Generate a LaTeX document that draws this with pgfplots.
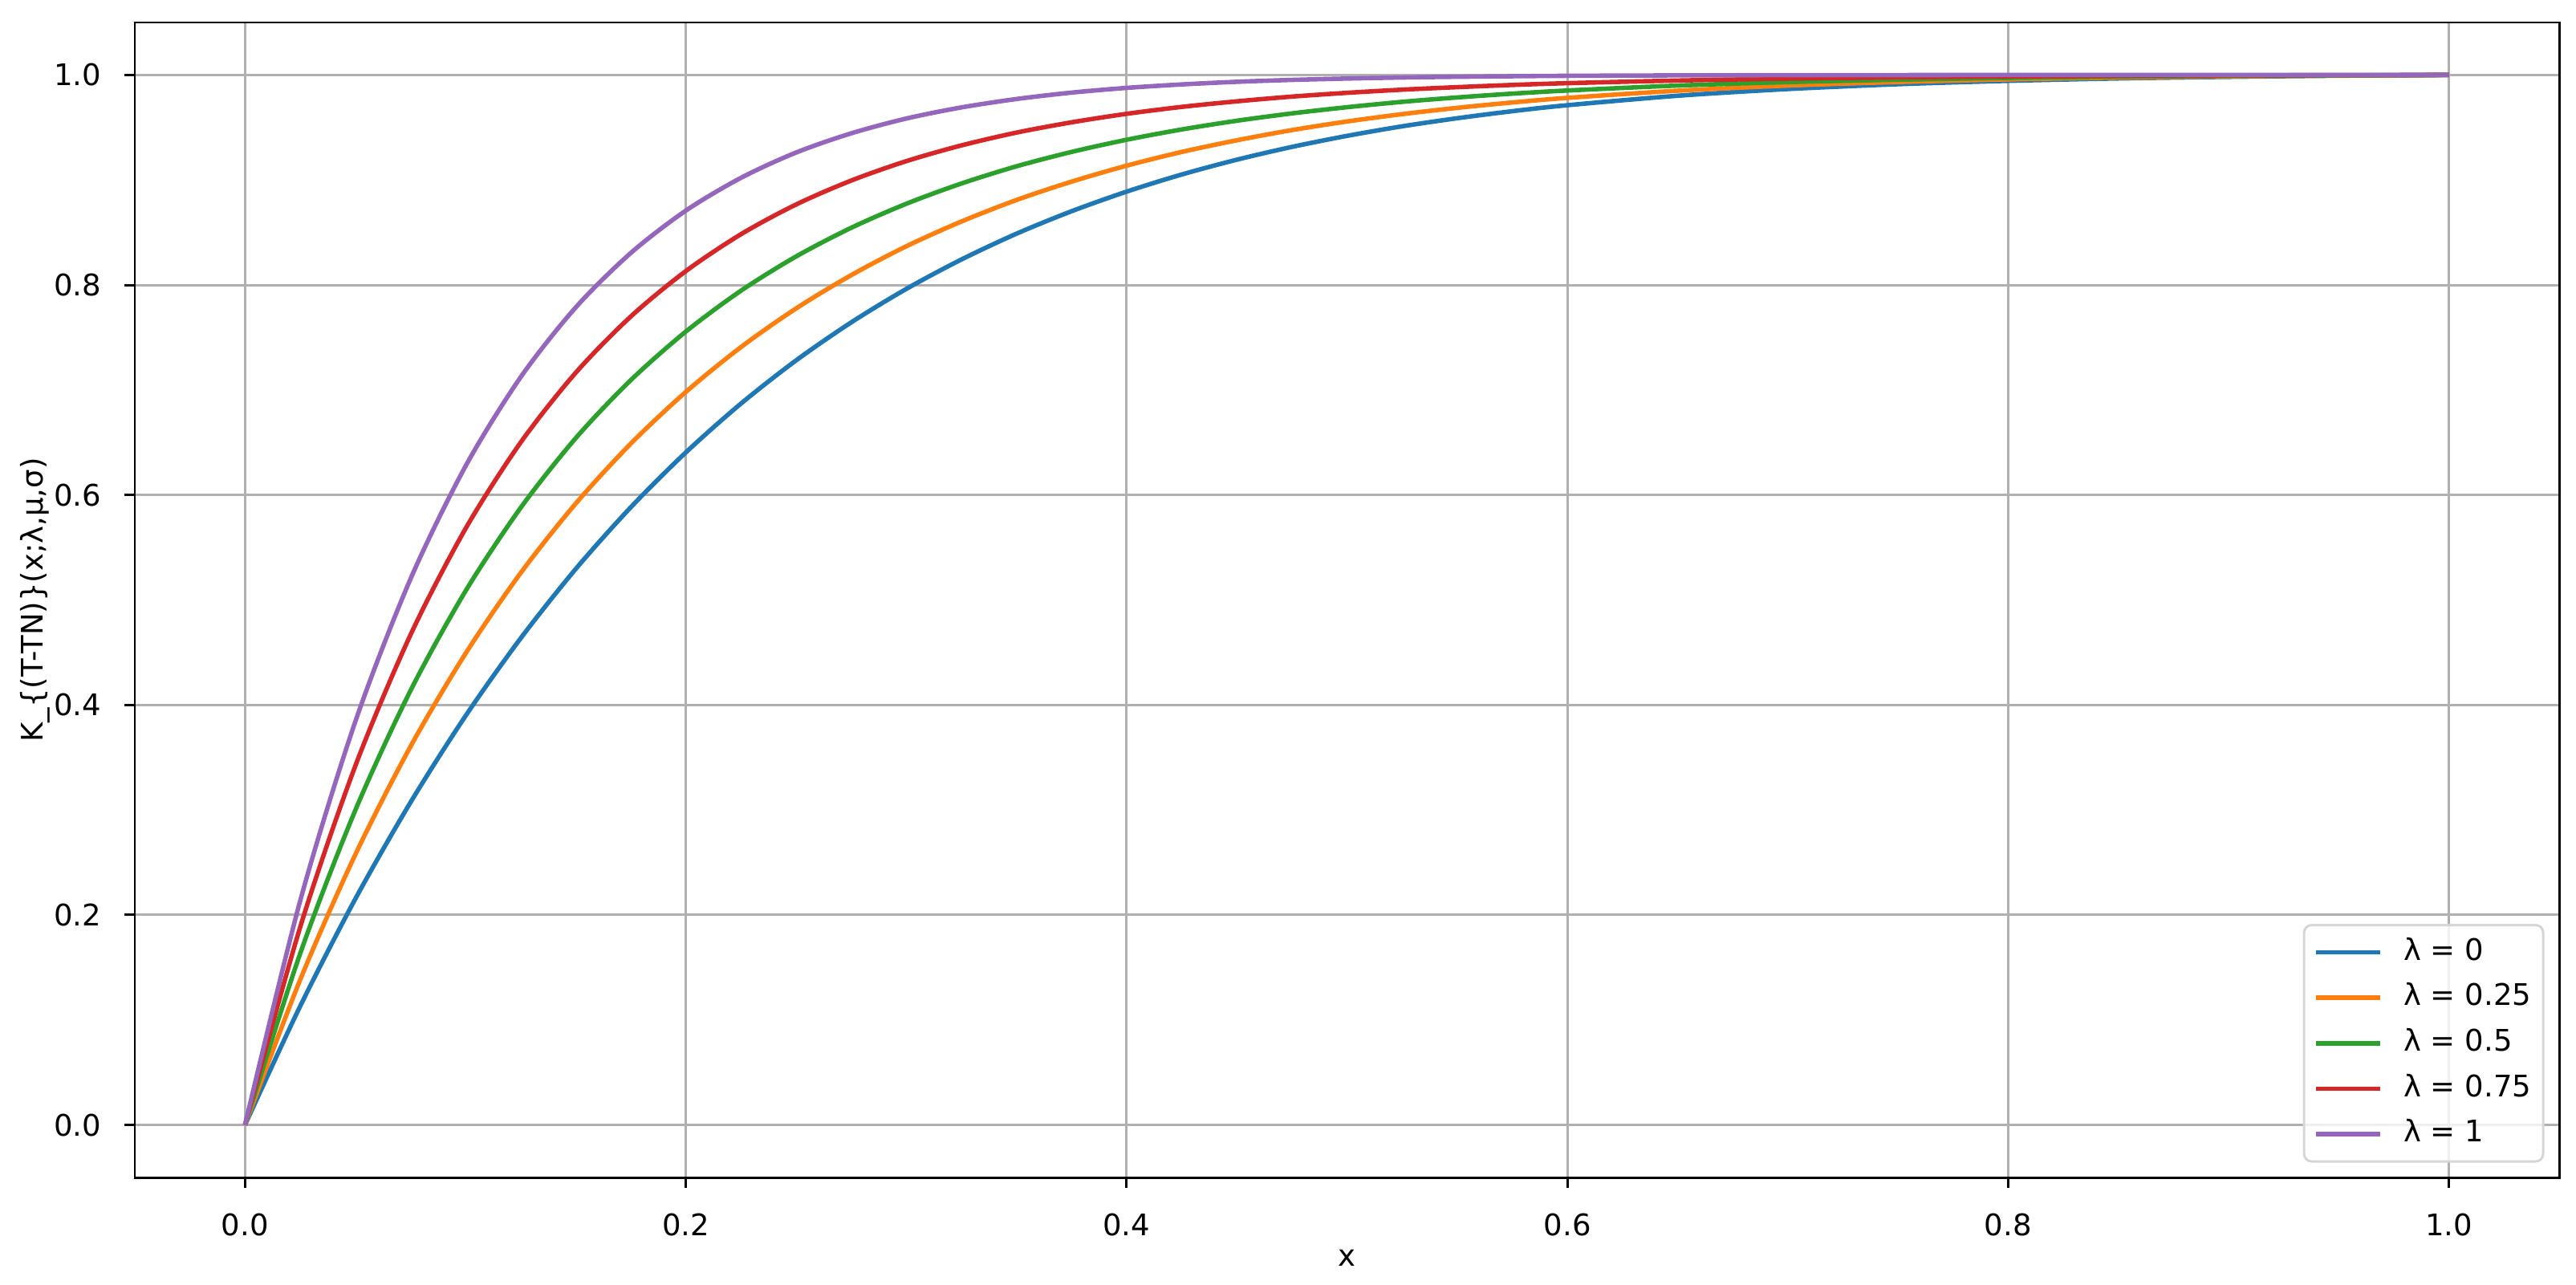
\documentclass[border=0pt]{standalone}
\usepackage{fontspec}
\setmainfont{DejaVu Sans}
\usepackage{pgfplots}
\usepackage{pgfplotstable}
\pgfplotsset{compat=1.18}
\definecolor{c0}{HTML}{1F77B4}
\definecolor{c1}{HTML}{FF7F0E}
\definecolor{c2}{HTML}{2CA02C}
\definecolor{c3}{HTML}{D62728}
\definecolor{c4}{HTML}{9467BD}
\definecolor{gridgray}{HTML}{B0B0B0}
\definecolor{legedge}{HTML}{D6D6D6}
\pgfplotstableread{
x      a      b      c      d      e
0      0      0      0      0      0
0.025  0.1130 0.1381 0.1631 0.1882 0.2132
0.05   0.2151 0.2573 0.2995 0.3417 0.3839
0.075  0.3069 0.3601 0.4133 0.4664 0.5196
0.1    0.3894 0.4488 0.5083 0.5677 0.6272
0.125  0.4633 0.5255 0.5876 0.6498 0.7120
0.15   0.5294 0.5917 0.6540 0.7163 0.7785
0.175  0.5882 0.6488 0.7093 0.7699 0.8304
0.2    0.6405 0.6981 0.7556 0.8132 0.8708
0.225  0.6870 0.7408 0.7945 0.8483 0.9020
0.25   0.7281 0.7776 0.8271 0.8766 0.9261
0.275  0.7643 0.8093 0.8544 0.8994 0.9444
0.3    0.7962 0.8368 0.8773 0.9179 0.9585
0.325  0.8242 0.8604 0.8966 0.9329 0.9691
0.35   0.8488 0.8809 0.9130 0.9451 0.9771
0.375  0.8702 0.8984 0.9267 0.9549 0.9832
0.4    0.8889 0.9136 0.9383 0.9630 0.9877
0.425  0.9052 0.9267 0.9481 0.9696 0.9910
0.45   0.9193 0.9378 0.9564 0.9749 0.9935
0.475  0.9315 0.9475 0.9634 0.9794 0.9953
0.5    0.9420 0.9557 0.9693 0.9830 0.9966
0.525  0.9511 0.9627 0.9744 0.9860 0.9976
0.55   0.9588 0.9687 0.9786 0.9884 0.9983
0.575  0.9655 0.9738 0.9822 0.9905 0.9988
0.6    0.9712 0.9782 0.9852 0.9922 0.9992
0.65   0.9802 0.9850 0.9899 0.9947 0.9996
0.7    0.9866 0.9899 0.9932 0.9965 0.9998
0.75   0.9912 0.9933 0.9955 0.9977 0.9999
0.8    0.9944 0.9958 0.9972 0.9986 1.0000
0.85   0.9967 0.9975 0.9983 0.9992 1.0000
0.9    0.9982 0.9987 0.9991 0.9996 1.0000
0.95   0.9993 0.9995 0.9996 0.9998 1.0000
1.0    1      1      1      1      1
}\data
\begin{document}
\begin{tikzpicture}
\begin{axis}[
  name=ax,
  scale only axis,
  width=815.67pt, height=388.53pt,
  xmin=-0.05, xmax=1.05, ymin=-0.05, ymax=1.05,
  xtick={0,0.2,0.4,0.6,0.8,1},
  xticklabels={0.0,0.2,0.4,0.6,0.8,1.0},
  ytick={0,0.2,0.4,0.6,0.8,1},
  yticklabels={0.0,0.2,0.4,0.6,0.8,1.0},
  xtick pos=bottom, ytick pos=left,
  tick align=outside,
  major tick length=3.5pt,
  major tick style={black, line width=0.8pt},
  axis line style={black, line width=0.8pt},
  grid=major,
  major grid style={gridgray, line width=0.8pt},
  xticklabel style={inner sep=0pt, anchor=north},
  yticklabel style={inner sep=0pt, anchor=east},
  xticklabel shift=8.4pt,
  yticklabel shift=7.6pt,
  xlabel={x},
  ylabel={K\_\{(T-TN)\}(x;λ,μ,σ)},
  xlabel style={at={(axis description cs:0.5,-0.0767)}, anchor=base, inner sep=0pt},
  ylabel style={at={(axis description cs:-0.0380,0.5)}, anchor=base, inner sep=0pt},
  legend cell align=left,
  legend image code/.code={\draw[#1, line cap=rect] (0pt,0pt) -- (20pt,0pt);},
  legend style={at={(1,0)}, anchor=south east, xshift=-5pt, yshift=5pt,
    draw=legedge, line width=0.8pt, rounded corners=2.5pt,
    fill=white, fill opacity=0.8, text opacity=1,
    inner xsep=4pt, inner ysep=4pt, row sep=5pt, column sep=8pt,
    nodes={inner sep=0pt, text height=7.8pt, text depth=2.5pt, anchor=west}},
]
\addplot[c0, line width=1.5pt, smooth, line join=round] table[x=x, y=a] {\data};
\addlegendentry{λ = 0}
\addplot[c1, line width=1.5pt, smooth, line join=round] table[x=x, y=b] {\data};
\addlegendentry{λ = 0.25}
\addplot[c2, line width=1.5pt, smooth, line join=round] table[x=x, y=c] {\data};
\addlegendentry{λ = 0.5}
\addplot[c3, line width=1.5pt, smooth, line join=round] table[x=x, y=d] {\data};
\addlegendentry{λ = 0.75}
\addplot[c4, line width=1.5pt, smooth, line join=round] table[x=x, y=e] {\data};
\addlegendentry{λ = 1}
\end{axis}
\pgfresetboundingbox
\path[use as bounding box] ([shift={(-45.36pt,-35.91pt)}]ax.south west) rectangle ([shift={(5.67pt,7.56pt)}]ax.north east);
\end{tikzpicture}
\end{document}
